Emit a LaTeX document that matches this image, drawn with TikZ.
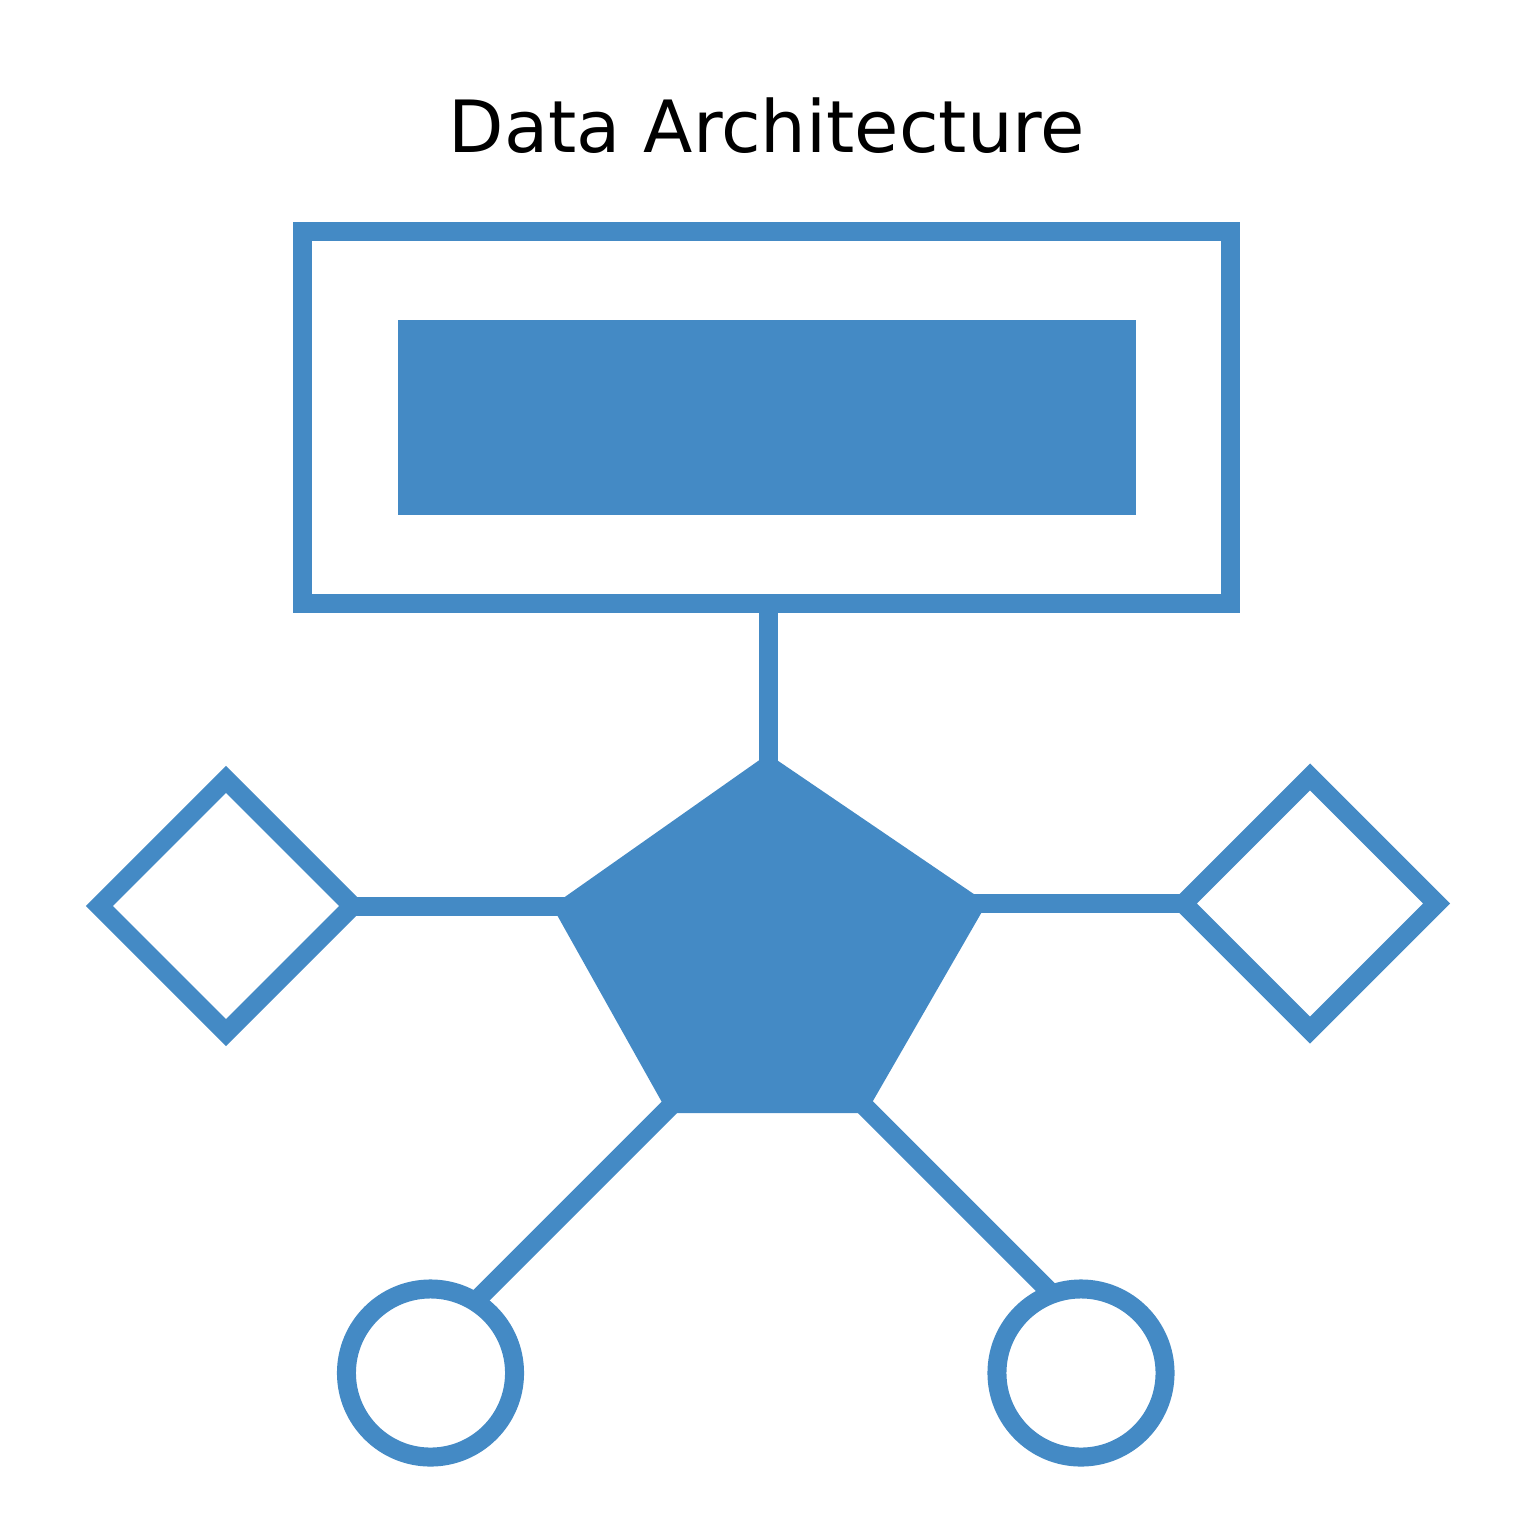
\documentclass[tikz,border=0pt]{standalone}
\usepackage{fontspec}
\setmainfont{DejaVu Sans}
\usetikzlibrary{shapes.geometric}
\definecolor{archblue}{HTML}{448AC5}
\tikzset{
  boxnode/.style={draw=archblue, line width=0.19cm, rectangle, inner sep=0pt, outer sep=0pt},
  diamnode/.style={draw=archblue, line width=0.19cm, diamond, aspect=1, inner sep=0pt, outer sep=0pt,
    minimum width=2.53cm, minimum height=2.53cm},
  ringnode/.style={draw=archblue, line width=0.19cm, circle, inner sep=0pt, outer sep=0pt, minimum size=1.68cm},
  linkline/.style={draw=archblue, line width=0.19cm}
}
\begin{document}
\begin{tikzpicture}[x=0.01cm,y=-0.01cm]
  \useasboundingbox (0,0) rectangle (1536,1536);
  \node[anchor=base, font=\fontsize{20.5}{24}\selectfont] (title) at (767,152) {Data Architecture};

  % top block
  \node[boxnode, minimum width=9.27cm, minimum height=3.71cm] (outer) at (766.5,417.5) {};
  \node[rectangle, fill=archblue, inner sep=0pt, minimum width=7.38cm, minimum height=1.95cm] (inner) at (767,417.5) {};

  % side and bottom shapes
  \node[diamnode] (ldiam) at (226,906) {};
  \node[diamnode] (rdiam) at (1310,903.5) {};
  \node[ringnode] (lring) at (430.5,1373) {};
  \node[ringnode] (rring) at (1081,1373) {};

  % pentagon corners
  \coordinate (ptop) at (768,754);
  \coordinate (pright) at (987,903);
  \coordinate (pbr) at (866,1113);
  \coordinate (pbl) at (668,1113);
  \coordinate (pleft) at (552,906);
  \coordinate (pmid) at (768,940);

  % links (ends hidden under the pentagon)
  \draw[linkline] (outer.south -| ptop) -- (pmid) ;
  \draw[linkline] (ldiam.east) -- (ldiam.east -| pmid) ;
  \draw[linkline] (rdiam.west) -- (rdiam.west -| pmid) ;
  \draw[linkline] (lring.58) -- ++(250,-250) ;
  \draw[linkline] (rring.110) -- ++(-250,-250) ;

  \fill[archblue] (ptop) -- (pright) -- (pbr) -- (pbl) -- (pleft) -- cycle;
\end{tikzpicture}
\end{document}
